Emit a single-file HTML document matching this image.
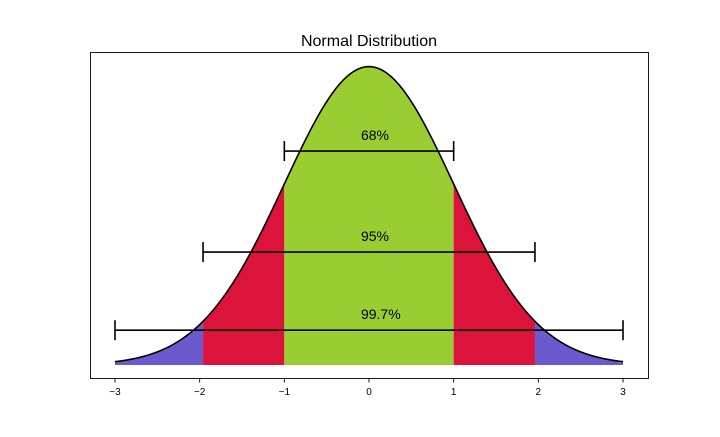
<!DOCTYPE html>
<html><head><meta charset="utf-8"><style>
body{margin:0;background:#fff;}
svg text{font-family:"Liberation Sans","DejaVu Sans",sans-serif;}
</style></head><body>
<svg id="chart" width="720" height="432" xmlns="http://www.w3.org/2000/svg">
<text x="369" y="46" text-anchor="middle" font-size="16">Normal Distribution</text>
<g id="fills"></g>
<path id="curve" fill="none" stroke="#000" stroke-width="1.6"/>
<g id="bars"></g>
<rect x="90.5" y="52.5" width="558" height="326" fill="none" stroke="#000" stroke-width="0.9"/>
<g id="ticks"></g>
</svg>
<script>
const tickValues=[-3,-2,-1,0,1,2,3];
const tickLabels=["\u22123","\u22122","\u22121","0","1","2","3"];
const regionStarts=[-3,-1.96,-1,1,1.96];
const regionEnds=[-1.96,-1,1,1.96,3];
const regionColors=["#6a5acd","#dc143c","#9acd32","#dc143c","#6a5acd"];
const barLabels=["68%","95%","99.7%"];
const barHalfWidths=[1,1.96,3];
const barHeights=[0.286,0.151,0.0465];

const NS="http://www.w3.org/2000/svg";
const xS=v=>369+v*84.67;
const yS=v=>365-v*748;
const pdf=x=>Math.exp(-x*x/2)/Math.sqrt(2*Math.PI);
const svg=document.getElementById('chart');
function mk(tag,attrs,parent){const e=document.createElementNS(NS,tag);for(const k in attrs)e.setAttribute(k,attrs[k]);parent.appendChild(e);return e;}

const fills=document.getElementById('fills');
regionStarts.forEach((a,i)=>{
  const b=regionEnds[i];let d=`M${xS(a)},${yS(0)}`;
  for(let k=0;k<=60;k++){const x=a+(b-a)*k/60;d+=` L${xS(x)},${yS(pdf(x))}`;}
  d+=` L${xS(b)},${yS(0)} Z`;
  const p=mk('path',{d:d,fill:regionColors[i]},fills);
  
  
});
let d='';
for(let k=0;k<=300;k++){const x=-3+6*k/300;d+=(k?' L':'M')+xS(x)+','+yS(pdf(x));}
document.getElementById('curve').setAttribute('d',d);

const bars=document.getElementById('bars');
barLabels.forEach((lab,i)=>{
  const g=mk('g',{},bars);
  
  
  const y=yS(barHeights[i]),x1=xS(-barHalfWidths[i]),x2=xS(barHalfWidths[i]);
  mk('line',{x1:x1,x2:x2,y1:y,y2:y,stroke:'#000','stroke-width':1.6},g);
  mk('line',{x1:x1,x2:x1,y1:y-10,y2:y+10,stroke:'#000','stroke-width':1.6},g);
  mk('line',{x1:x2,x2:x2,y1:y-10,y2:y+10,stroke:'#000','stroke-width':1.6},g);
  const t=mk('text',{x:xS(-0.095),y:y-11,'text-anchor':'start','font-size':14},g);
  t.textContent=lab;
  
  
});

const ticks=document.getElementById('ticks');
tickValues.forEach((v,i)=>{
  const x=xS(v);
  mk('line',{x1:x,x2:x,y1:378.5,y2:382.5,stroke:'#000','stroke-width':0.9},ticks);
  const t=mk('text',{x:x,y:395,'text-anchor':'middle','font-size':10},ticks);
  t.textContent=tickLabels[i];
  
  
});
</script>
</body></html>
